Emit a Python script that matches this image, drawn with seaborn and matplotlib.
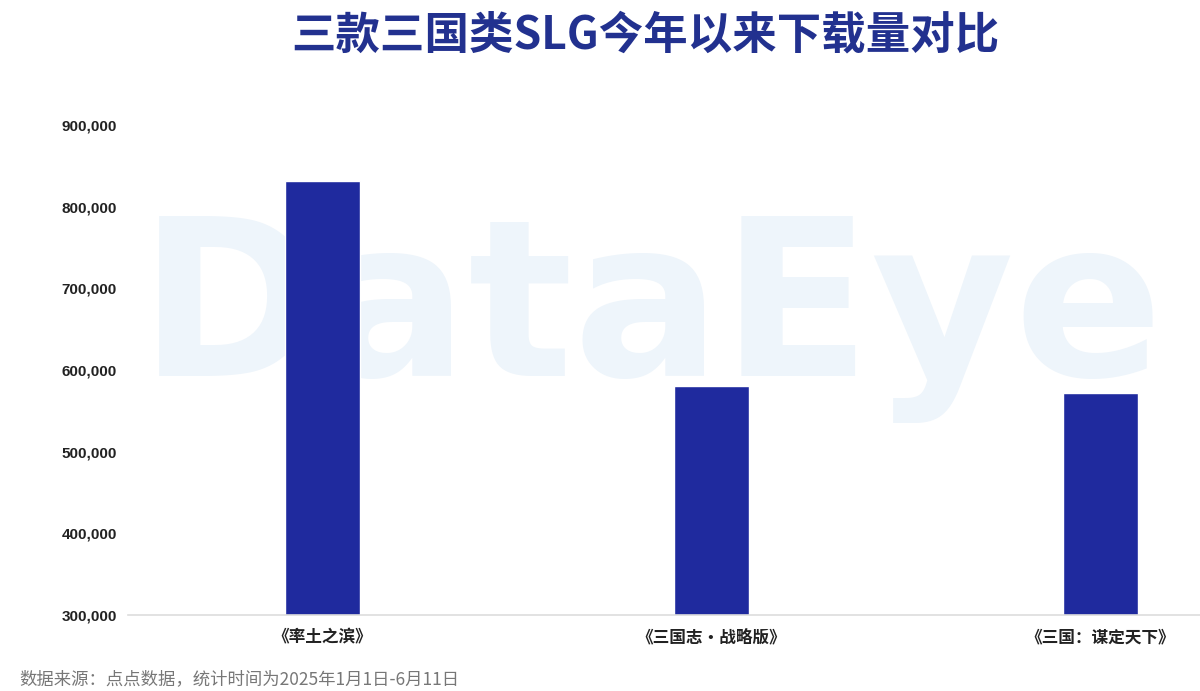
import matplotlib
matplotlib.use("Agg")
import matplotlib.pyplot as plt
import seaborn as sns
import pandas as pd
from matplotlib.ticker import FuncFormatter

# Données
games = ["《率土之滨》", "《三国志·战略版》", "《三国：谋定天下》"]
downloads = [832000, 580000, 572000]
yticks = [300000, 400000, 500000, 600000, 700000, 800000, 900000]

title = "三款三国类SLG今年以来下载量对比"
source = "数据来源：点点数据，统计时间为2025年1月1日-6月11日"

sns.set_style("white")
plt.rcParams["font.family"] = ["Noto Sans CJK SC", "DejaVu Sans"]

df = pd.DataFrame({"game": games, "downloads": downloads})

fig = plt.figure(figsize=(12, 6.91), dpi=100)
ax = fig.add_axes([0.1067, 0.110, 0.8933, 0.709])

# Filigrane, derrière les barres
ax.text(0.01, 0.61, "DataEye", transform=ax.transAxes, fontsize=158,
        fontweight="bold", color="#eef5fb", ha="left", va="center",
        family="DejaVu Sans", zorder=0)

sns.barplot(data=df, x="game", y="downloads", color="#1f2a9e",
            width=0.193, saturation=1, ax=ax, zorder=2)

ax.set_ylim(300000, 900000)
ax.set_xlim(-0.5, 2.257)
ax.set_yticks(yticks)
ax.yaxis.set_major_formatter(FuncFormatter(lambda v, p: f"{int(v):,}"))
ax.set_xlabel("")
ax.set_ylabel("")

for s in ["top", "right", "left"]:
    ax.spines[s].set_visible(False)
ax.spines["bottom"].set_color("#dddddd")
ax.spines["bottom"].set_linewidth(1.2)
ax.tick_params(axis="both", length=0)
ax.tick_params(axis="y", pad=8)
ax.tick_params(axis="x", pad=10)

for lab in ax.get_yticklabels():
    lab.set_family("Liberation Sans")
    lab.set_fontweight("bold")
    lab.set_fontsize(11)
    lab.set_color("#222222")
for lab in ax.get_xticklabels():
    lab.set_fontsize(12)
    lab.set_fontweight("bold")
    lab.set_color("#222222")

fig.text(0.538, 0.948, title, ha="center", va="center", fontsize=32,
         fontweight="heavy", color="#22318f")
fig.text(0.383, 0.017, source, ha="right", va="center", fontsize=12.5,
         color="#777777")

fig.savefig("out.png", dpi=100)
